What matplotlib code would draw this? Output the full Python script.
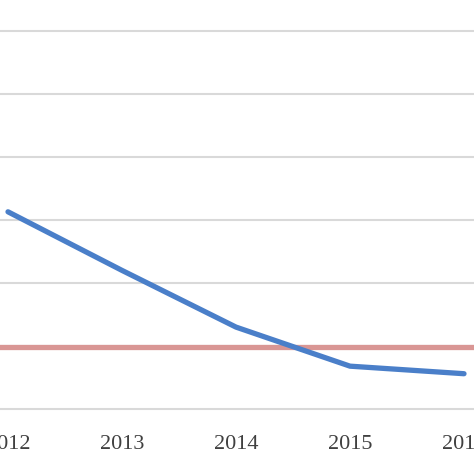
import matplotlib
matplotlib.use("Agg")
import matplotlib.pyplot as plt

years = [2012, 2013, 2014, 2015, 2016]
values = [3.13, 2.2, 1.3, 0.68, 0.56]
target = 0.98
grid_levels = [0, 1, 2, 3, 4, 5, 6]

fig = plt.figure(figsize=(4.74, 4.74), dpi=100)
ax = fig.add_axes([0, 0, 1, 1])
ax.set_xlim(2012 - 8 / 114, 2012 + 466 / 114)
ax.set_ylim(-65 / 63, 409 / 63)

for g in grid_levels:
    ax.axhline(g, color="#d9d9d9", lw=1.5, zorder=1)
ax.axhline(target, color="#d99694", lw=3.8, zorder=2)
ax.plot(years, values, color="#4a7fc9", lw=3.8, solid_capstyle="round", zorder=3)

for y in years:
    ax.text(y, -0.56, str(y), ha="center", va="center",
            fontsize=16, family="Liberation Serif", color="#404040")

ax.axis("off")
fig.savefig("out.png", dpi=100)
